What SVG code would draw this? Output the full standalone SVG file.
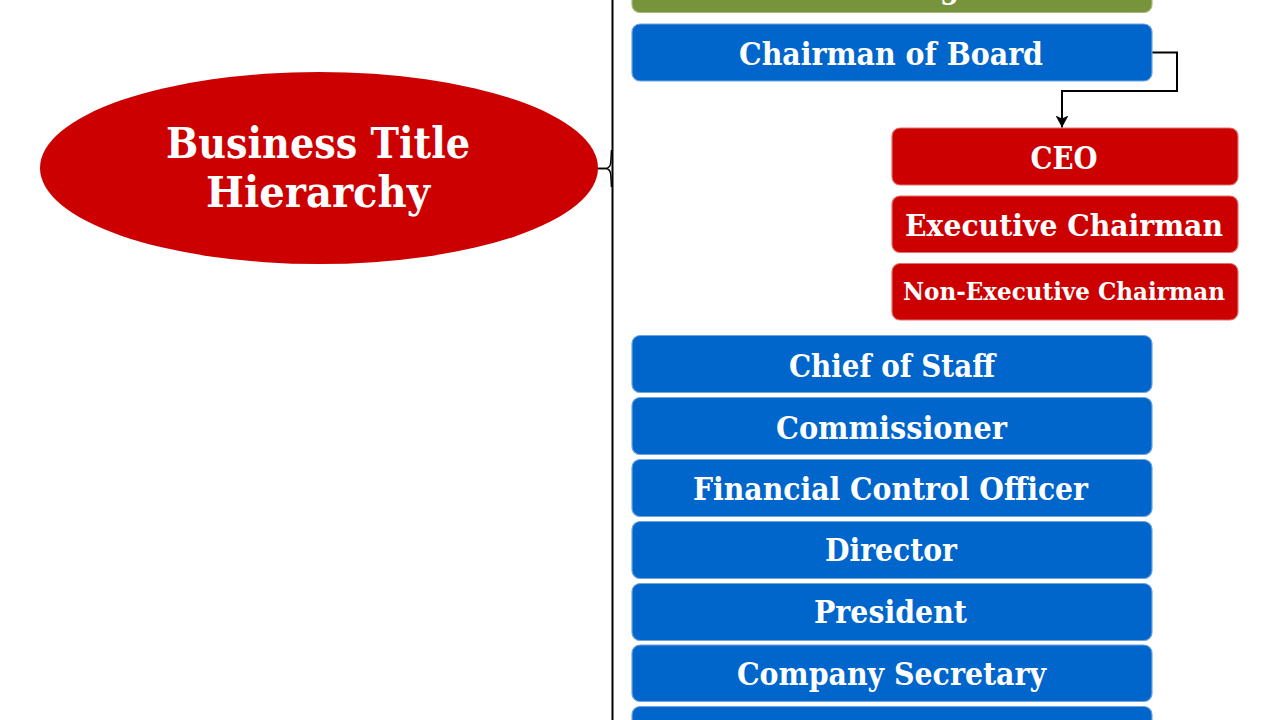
<svg xmlns="http://www.w3.org/2000/svg" width="1280" height="720" viewBox="0 0 1280 720">
<defs>
<style>
.t{font-family:"DejaVu Serif","Liberation Serif",serif;font-weight:bold;fill:#ffffff;text-anchor:middle}
.b{fill:#0066CC;stroke:#6FA3E0;stroke-width:1.2}
.r{fill:#CC0000;stroke:#E07070;stroke-width:1.2}
.g{fill:#77933C;stroke:#A4BB78;stroke-width:1.2}
.ln{fill:none;stroke:#000000;stroke-width:2}
</style>
<marker id="ah" markerWidth="14" markerHeight="14" refX="12" refY="6.5" orient="auto" markerUnits="userSpaceOnUse">
<path d="M0,0 L12,6.5 L0,13 L3,6.5 Z" fill="#000000"/>
</marker>
</defs>
<rect width="1280" height="720" fill="#ffffff"/>

<g id="connectors">
<line class="ln" x1="612.5" y1="0" x2="612.5" y2="720"/>
<path d="M598,168.5 H605 Q610.5,168.5 610.8,162 L611.5,150" fill="none" stroke="#000" stroke-width="1.5"/>
<path d="M598,168.5 H605 Q610.5,168.5 610.8,175 L611.5,187" fill="none" stroke="#000" stroke-width="1.5"/>
<path class="ln" d="M1152,52.5 H1177 V91 H1062 V127.5" marker-end="url(#ah)"/>
</g>

<g id="root">
<ellipse cx="319" cy="168" rx="279" ry="96" fill="#CC0000"/>
<text class="t" x="318" y="158" font-size="42" textLength="304" lengthAdjust="spacingAndGlyphs">Business Title</text>
<text class="t" x="318" y="206.5" font-size="42" textLength="224" lengthAdjust="spacingAndGlyphs">Hierarchy</text>
</g>

<g id="senior-management">
<rect class="g" x="632" y="-45" width="520" height="57.5" rx="8"/>
<text class="t" x="900" y="-2" font-size="31" textLength="311" lengthAdjust="spacingAndGlyphs">Senior Management</text>
</g>

<g id="chairman-of-board">
<rect class="b" x="632" y="24" width="520" height="57" rx="8"/>
<text class="t" x="891" y="65" font-size="31" textLength="304" lengthAdjust="spacingAndGlyphs">Chairman of Board</text>
</g>

<g id="ceo">
<rect class="r" x="892" y="128" width="346" height="57" rx="8"/>
<text class="t" x="1064" y="168.5" font-size="31" textLength="67" lengthAdjust="spacingAndGlyphs">CEO</text>
</g>

<g id="executive-chairman">
<rect class="r" x="892" y="196" width="346" height="56.5" rx="8"/>
<text class="t" x="1064" y="235.5" font-size="29" textLength="318" lengthAdjust="spacingAndGlyphs">Executive Chairman</text>
</g>

<g id="non-executive-chairman">
<rect class="r" x="892" y="263.5" width="346" height="56.5" rx="8"/>
<text class="t" x="1064" y="299.5" font-size="24" textLength="322" lengthAdjust="spacingAndGlyphs">Non-Executive Chairman</text>
</g>

<g id="chief-of-staff">
<rect class="b" x="632" y="335.5" width="520" height="57" rx="8"/>
<text class="t" x="892" y="376.5" font-size="31" textLength="206" lengthAdjust="spacingAndGlyphs">Chief of Staff</text>
</g>

<g id="commissioner">
<rect class="b" x="632" y="397.5" width="520" height="57" rx="8"/>
<text class="t" x="891.5" y="438.5" font-size="31" textLength="231" lengthAdjust="spacingAndGlyphs">Commissioner</text>
</g>

<g id="financial-control-officer">
<rect class="b" x="632" y="459.5" width="520" height="57" rx="8"/>
<text class="t" x="890.5" y="499.5" font-size="31" textLength="395" lengthAdjust="spacingAndGlyphs">Financial Control Officer</text>
</g>

<g id="director">
<rect class="b" x="632" y="521.5" width="520" height="57" rx="8"/>
<text class="t" x="891" y="561" font-size="31" textLength="132" lengthAdjust="spacingAndGlyphs">Director</text>
</g>

<g id="president">
<rect class="b" x="632" y="583.5" width="520" height="57" rx="8"/>
<text class="t" x="890.5" y="623" font-size="31" textLength="153" lengthAdjust="spacingAndGlyphs">President</text>
</g>

<g id="company-secretary">
<rect class="b" x="632" y="645" width="520" height="56.5" rx="8"/>
<text class="t" x="891.5" y="685" font-size="31" textLength="309" lengthAdjust="spacingAndGlyphs">Company Secretary</text>
</g>

<g id="next-title">
<rect class="b" x="632" y="706.5" width="520" height="57" rx="8"/>
</g>
</svg>
